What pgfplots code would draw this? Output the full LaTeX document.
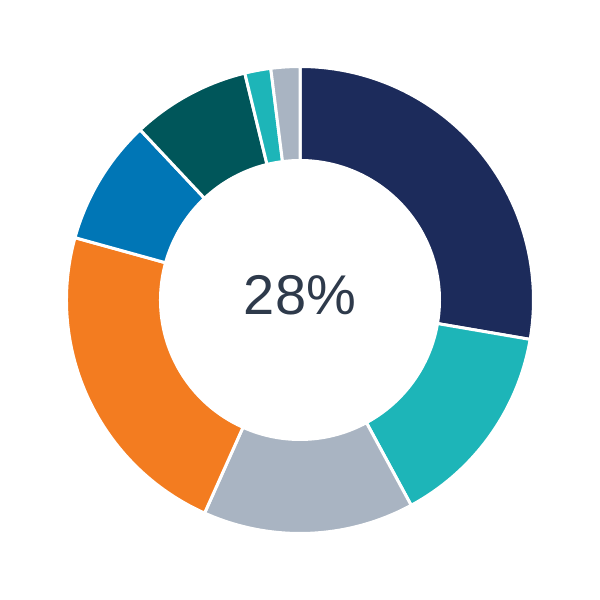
\documentclass[border=0pt]{standalone}
\usepackage{pgfplots}
\usepackage{pgfplotstable}
\pgfplotsset{compat=1.18}
\usepackage{fontspec}
\setmainfont{Liberation Sans}
\definecolor{segNavy}{HTML}{1C2B5B}
\definecolor{segTeal}{HTML}{1DB5B8}
\definecolor{segGray}{HTML}{A9B4C2}
\definecolor{segOrange}{HTML}{F37C20}
\definecolor{segBlue}{HTML}{0076B6}
\definecolor{segDark}{HTML}{00565A}
\definecolor{labelInk}{HTML}{2E3A4B}

% share of each ring segment, clockwise from the top
\pgfplotstableread{
value colour
27.7  segNavy
14.4  segTeal
14.6  segGray
22.6  segOrange
8.7   segBlue
8.2   segDark
1.8   segTeal
2.0   segGray
}\ringdata

\begin{document}
\begin{tikzpicture}
\begin{axis}[
    hide axis,
    x=0.5pt, y=0.5pt,
    xmin=-300, xmax=300,
    ymin=-300, ymax=300,
    clip=false,
    ]
    \path (axis cs:-300,-300) rectangle (axis cs:300,300);
    \xdef\ang{90}
    \pgfplotsinvokeforeach{0,...,7}{
        \pgfplotstablegetelem{#1}{value}\of\ringdata
        \pgfmathsetmacro\endang{\ang-3.6*\pgfplotsretval}
        \pgfplotstablegetelem{#1}{colour}\of\ringdata
        \edef\segcol{\pgfplotsretval}
        \edef\temp{\noexpand\fill[\segcol, draw=white, line width=1.5pt,
            shift={(axis cs:0,0)}]
            (\ang:116.75pt) arc[start angle=\ang, end angle=\endang, radius=116.75pt]
            -- (\endang:69.75pt) arc[start angle=\endang, end angle=\ang, radius=69.75pt]
            -- cycle;}
        \temp
        \xdef\ang{\endang}
    }
    \node[anchor=base, text=labelInk, inner sep=0pt,
        font=\fontsize{28}{30}\selectfont] at (axis cs:0,-15) {28\%};
\end{axis}
\end{tikzpicture}
\end{document}
